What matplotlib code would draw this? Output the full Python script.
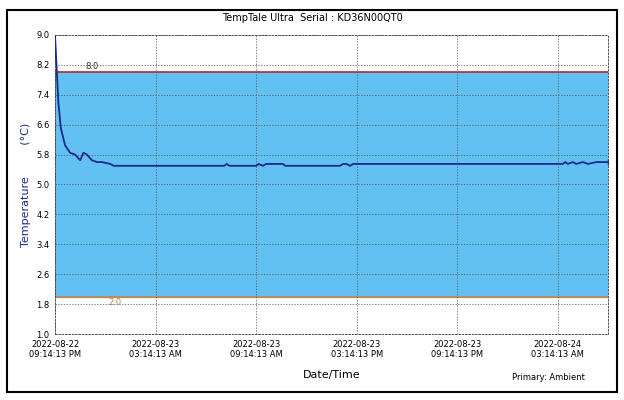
import matplotlib
matplotlib.use("Agg")
import matplotlib.pyplot as plt
from matplotlib.patches import Rectangle

hours = [0, 0.1, 0.2, 0.35, 0.6, 0.9, 1.2, 1.5, 1.7, 1.9, 2.2, 2.5, 2.8, 3.3, 3.5, 10.1, 10.25, 10.4,
         12.0, 12.15, 12.4, 12.6, 13.6, 13.75, 17.0, 17.2, 17.4, 17.6, 17.8, 30.3, 30.45, 30.6, 30.9, 31.1, 31.5, 31.8, 32.3, 32.6, 33.0]
temps = [9.0, 8.1, 7.2, 6.5, 6.05, 5.85, 5.8, 5.65, 5.85, 5.8, 5.65, 5.6, 5.6, 5.55, 5.5, 5.5, 5.55, 5.5,
         5.5, 5.55, 5.5, 5.55, 5.55, 5.5, 5.5, 5.55, 5.55, 5.5, 5.55, 5.55, 5.6, 5.55, 5.6, 5.55, 5.6, 5.55, 5.6, 5.6, 5.6]
upper_limit = 8.0
lower_limit = 2.0
yticks = [1.0, 1.8, 2.6, 3.4, 4.2, 5.0, 5.8, 6.6, 7.4, 8.2, 9.0]
xtick_hours = [0, 6, 12, 18, 24, 30]
xtick_labels = ["2022-08-22\n09:14:13 PM", "2022-08-23\n03:14:13 AM", "2022-08-23\n09:14:13 AM",
                "2022-08-23\n03:14:13 PM", "2022-08-23\n09:14:13 PM", "2022-08-24\n03:14:13 AM"]

fig = plt.figure(figsize=(6.24, 4.0), dpi=100)
fig.patches.append(Rectangle((0.012, 0.02), 0.976, 0.955, transform=fig.transFigure,
                             fill=False, edgecolor="black", linewidth=1.5))
ax = fig.add_axes([55/624, 1-334/400, 553/624, 299/400])
ax.set_xlim(0, 33.0)
ax.set_ylim(1.0, 9.0)
ax.axhspan(lower_limit, upper_limit, color="#62c0f2", zorder=0)
ax.axhline(upper_limit, color="#b03030", lw=1.2, zorder=2)
ax.axhline(lower_limit, color="#d08040", lw=1.2, zorder=2)
ax.text(1.8, upper_limit + 0.05, "8.0", fontsize=6, color="#333333", va="bottom")
ax.text(3.2, lower_limit - 0.05, "2.0", fontsize=6, color="#c08040", va="top")
ax.grid(True, color="#555555", linestyle=(0, (2, 2)), linewidth=0.5, zorder=1)
ax.set_axisbelow(False)
ax.plot(hours, temps, color="#1a2a8a", lw=1.3, zorder=3)
ax.plot([hours[-1]], [temps[-1]], marker="|", color="#1a2a8a", ms=5)
ax.set_yticks(yticks)
ax.set_yticklabels([f"{v:.1f}" for v in yticks], fontsize=6)
ax.set_xticks(xtick_hours)
ax.set_xticklabels(xtick_labels, fontsize=6, ha="center")
ax.tick_params(length=0, pad=4)
for s in ax.spines.values():
    s.set_linestyle((0, (2, 2))); s.set_linewidth(0.6); s.set_color("#333333")
ax.set_xlabel("Date/Time", fontsize=8, labelpad=8)
ax.set_ylabel("Temperature         (°C)", fontsize=8, color="#1a2a8a")
fig.text(0.5, 0.955, "TempTale Ultra  Serial : KD36N00QT0", fontsize=7, ha="center", va="center")
fig.text(0.82, 0.05, "Primary: Ambient", fontsize=6)
fig.savefig("out.png", dpi=100)
